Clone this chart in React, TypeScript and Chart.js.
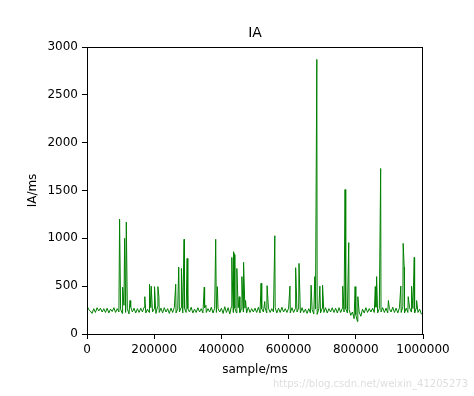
import React, { useEffect, useRef } from 'react';
import { Chart, registerables } from 'chart.js';

Chart.register(...registerables);

// Baseline samples, one every 5000 ms (0 .. 1,000,000)
const baselineStep = 5000;
const baselineValues = [
  295, 255, 240, 215, 265, 225, 275, 240, 270, 230,
  265, 225, 270, 220, 260, 235, 275, 225, 265, 230,
  260, 215, 300, 225, 265, 210, 285, 230, 270, 220,
  265, 225, 270, 230, 280, 220, 260, 225, 275, 230,
  265, 215, 285, 225, 270, 220, 275, 230, 265, 215,
  270, 225, 280, 220, 265, 230, 275, 220, 270, 225,
  265, 230, 280, 220, 260, 225, 275, 230, 265, 220,
  275, 225, 265, 230, 280, 220, 270, 225, 265, 230,
  270, 215, 285, 225, 275, 210, 290, 225, 270, 220,
  275, 225, 265, 230, 270, 220, 280, 225, 265, 230,
  270, 225, 280, 220, 265, 230, 275, 220, 270, 225,
  265, 230, 275, 220, 270, 225, 280, 230, 265, 225,
  270, 220, 275, 225, 265, 230, 270, 220, 275, 225,
  260, 215, 265, 220, 255, 210, 260, 205, 265, 220,
  270, 225, 275, 220, 265, 230, 275, 225, 270, 220,
  275, 225, 270, 230, 265, 220, 255, 195, 230, 160,
  200, 130, 230, 185, 260, 220, 275, 225, 265, 230,
  270, 225, 280, 220, 265, 230, 275, 225, 270, 220,
  265, 230, 280, 225, 270, 220, 275, 225, 285, 220,
  270, 225, 275, 230, 265, 220, 270, 225, 260, 210,
  215,
];

// Spikes (sample position in ms, IA value)
const spikeSamples = [
  97000, 106000, 112000, 117000, 128000, 172000, 186000, 191000, 201000, 211000,
  214000, 264000, 273000, 281000, 289000, 298000, 349000, 354000, 383000, 388000,
  431000, 436000, 439000, 446000, 453000, 461000, 466000, 472000, 518000, 529000,
  536000, 559000, 604000, 621000, 631000, 667000, 678000, 684000, 693000, 701000,
  761000, 768000, 779000, 798000, 806000, 858000, 862000, 874000, 897000, 934000,
  941000, 944000, 956000, 966000, 974000, 981000,
];
const spikeValues = [
  1200, 490, 1000, 1170, 350, 390, 520, 500, 495, 495,
  390, 520, 700, 685, 990, 790, 490, 300, 990, 495,
  800, 860, 830, 685, 390, 600, 750, 350, 530, 340,
  505, 1027, 500, 693, 738, 510, 600, 2870, 500, 510,
  500, 1510, 955, 495, 390, 495, 600, 1730, 350, 500,
  947, 700, 390, 500, 800, 350,
];

const xTickValues = [0, 200000, 400000, 600000, 800000, 1000000];
const yTickValues = [0, 500, 1000, 1500, 2000, 2500, 3000];

const chartTitle = 'IA';
const xLabel = 'sample/ms';
const yLabel = 'IA/ms';
const watermark = 'https://blog.csdn.net/weixin_41205273';

const FONT = '"DejaVu Sans", sans-serif';

export default function App() {
  const ref = useRef<HTMLCanvasElement | null>(null);

  useEffect(() => {
    if (!ref.current) return;
    const points: { x: number; y: number }[] = [];
    baselineValues.forEach((v, i) => points.push({ x: i * baselineStep, y: v }));
    spikeSamples.forEach((s, i) => points.push({ x: s, y: spikeValues[i] }));
    points.sort((a, b) => a.x - b.x);

    const framePlugin = {
      id: 'frameAndText',
      afterDraw(chart: any) {
        const { ctx, chartArea } = chart;
        const { left, top, right, bottom } = chartArea;
        ctx.save();
        ctx.strokeStyle = '#000';
        ctx.lineWidth = 1;
        ctx.strokeRect(Math.round(left) + 0.5, Math.round(top) + 0.5, Math.round(right - left) - 1, Math.round(bottom - top));
        ctx.fillStyle = '#000';
        ctx.font = `14px ${FONT}`;
        ctx.textAlign = 'center';
        ctx.textBaseline = 'middle';
        ctx.fillText(chartTitle, (left + right) / 2, 33);
        ctx.fillStyle = 'rgba(200,200,200,0.6)';
        ctx.font = `10px ${FONT}`;
        ctx.textAlign = 'right';
        ctx.fillText(watermark, 468, 384);
        ctx.restore();
      },
    };

    const chart = new Chart(ref.current, {
      type: 'line',
      data: {
        datasets: [
          {
            data: points,
            borderColor: '#008000',
            borderWidth: 1,
            pointRadius: 0,
            tension: 0,
            fill: false,
          },
        ],
      },
      options: {
        animation: false,
        responsive: false,
        maintainAspectRatio: false,
        layout: { padding: { top: 47, right: 51, left: 0, bottom: 0 } },
        plugins: { legend: { display: false }, tooltip: { enabled: false }, title: { display: false } },
        scales: {
          x: {
            type: 'linear',
            min: 0,
            max: 1000000,
            afterFit: (s: any) => { s.height = 62; },
            afterBuildTicks: (s: any) => { s.ticks = xTickValues.map((v) => ({ value: v })); },
            ticks: {
              autoSkip: false,
              maxRotation: 0,
              padding: 4,
              color: '#000',
              font: { family: FONT, size: 12 },
              callback: (v: any) => String(v),
            },
            grid: { display: true, drawOnChartArea: false, drawTicks: true, tickLength: 5, tickColor: '#000', color: '#000' },
            border: { display: false },
            title: {
              display: true,
              text: xLabel,
              color: '#000',
              font: { family: FONT, size: 12 },
              padding: { top: 0, bottom: 19 },
            },
          },
          y: {
            type: 'linear',
            min: 0,
            max: 3000,
            afterFit: (s: any) => { s.width = 87; },
            afterBuildTicks: (s: any) => { s.ticks = yTickValues.map((v) => ({ value: v })); },
            ticks: {
              autoSkip: false,
              padding: 4,
              color: '#000',
              font: { family: FONT, size: 12 },
              callback: (v: any) => String(v),
            },
            grid: { display: true, drawOnChartArea: false, drawTicks: true, tickLength: 5, tickColor: '#000', color: '#000' },
            border: { display: false },
            title: {
              display: true,
              text: yLabel,
              color: '#000',
              font: { family: FONT, size: 12 },
              padding: { top: 26, bottom: 0 },
            },
          },
        },
      },
      plugins: [framePlugin],
    } as any);
    return () => chart.destroy();
  }, []);

  return (
    <div style={{ position: 'fixed', left: 0, top: 0, width: 474, height: 396, background: '#fff' }}>
      <canvas ref={ref} width={474} height={396} style={{ width: 474, height: 396 }} />
    </div>
  );
}
